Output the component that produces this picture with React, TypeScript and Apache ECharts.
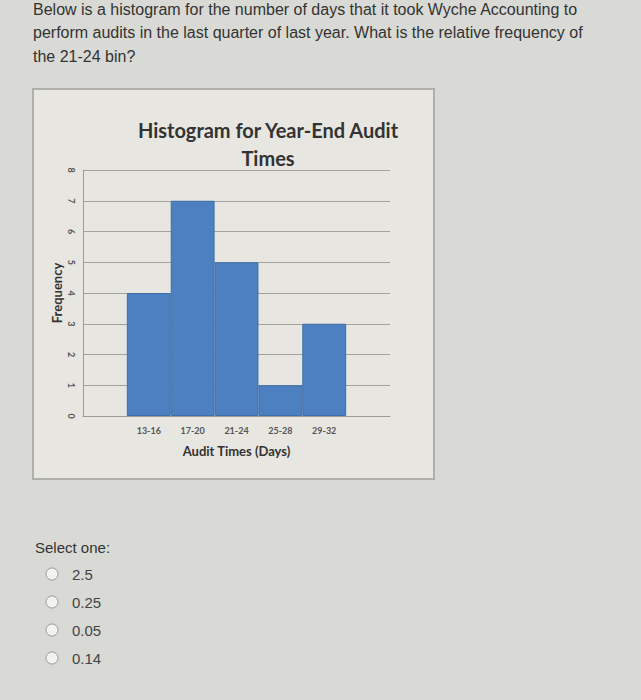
import React, { useEffect, useRef } from "react";
import * as echarts from "echarts";

const questionLines = [
  "Below is a histogram for the number of days that it took Wyche Accounting to",
  "perform audits in the last quarter of last year. What is the relative frequency of",
  "the 21-24 bin?",
];
const categories = ["", "13-16", "17-20", "21-24", "25-28", "29-32", ""];
const frequencies = [null, 4, 7, 5, 1, 3, null];
const options = ["2.5", "0.25", "0.05", "0.14"];
const chartTitle = "Histogram for Year-End Audit\nTimes";
const xName = "Audit Times (Days)";
const yName = "Frequency";

export default function App() {
  const ref = useRef<HTMLDivElement>(null);
  useEffect(() => {
    if (!ref.current) return;
    const chart = echarts.init(ref.current, null, { renderer: "svg" });
    const textFont = "Liberation Sans, Arial, sans-serif";
    const chartFont = "Lato, Open Sans, sans-serif";
    const graphics: any[] = [
      {
        type: "rect",
        z: -10,
        shape: { x: 33, y: 89, width: 401, height: 390 },
        style: { fill: "#e7e6e1", stroke: "#afafab", lineWidth: 2 },
      },
      {
        type: "text",
        x: 268,
        y: 116,
        style: {
          text: chartTitle,
          fontFamily: chartFont,
          fontWeight: "bold",
          fontSize: 20,
          lineHeight: 28,
          fill: "#333",
          textAlign: "center",
          textVerticalAlign: "top",
        },
      },
    ];
    questionLines.forEach((t, i) => {
      graphics.push({
        type: "text",
        x: 33,
        y: 9 + i * 23.5,
        style: {
          text: t,
          fontFamily: textFont,
          fontSize: 16,
          fill: "#333",
          textVerticalAlign: "middle",
        },
      });
    });
    graphics.push({
      type: "text",
      x: 35,
      y: 547,
      style: {
        text: "Select one:",
        fontFamily: textFont,
        fontSize: 15,
        fill: "#333",
        textVerticalAlign: "middle",
      },
    });
    options.forEach((t, i) => {
      const cy = 574 + i * 28;
      graphics.push({
        type: "circle",
        shape: { cx: 52, cy, r: 6 },
        style: { fill: "#f2f2f0", stroke: "#9a9a9a", lineWidth: 1 },
      });
      graphics.push({
        type: "text",
        x: 72,
        y: cy,
        style: {
          text: t,
          fontFamily: textFont,
          fontSize: 15,
          fill: "#444",
          textVerticalAlign: "middle",
        },
      });
    });

    chart.setOption({
      animation: false,
      backgroundColor: "#d9dad5",
      graphic: graphics,
      grid: { left: 83, right: 251, top: 170, bottom: 284 },
      xAxis: {
        type: "category",
        data: categories,
        name: xName,
        nameLocation: "middle",
        nameGap: 28,
        nameTextStyle: {
          fontFamily: chartFont,
          fontWeight: "bold",
          fontSize: 13,
          color: "#333",
        },
        axisTick: { show: false },
        axisLine: { show: true, lineStyle: { color: "#9c9c9c", width: 1 } },
        axisLabel: {
          interval: 0,
          margin: 10,
          fontFamily: chartFont,
          fontWeight: "bold",
          fontSize: 9,
          color: "#555",
        },
      },
      yAxis: {
        type: "value",
        min: 0,
        max: 8,
        interval: 1,
        name: yName,
        nameLocation: "middle",
        nameRotate: 90,
        nameGap: 20,
        nameTextStyle: {
          fontFamily: chartFont,
          fontWeight: "bold",
          fontSize: 13,
          color: "#333",
        },
        axisLine: { show: true, lineStyle: { color: "#9c9c9c", width: 1 } },
        axisTick: { show: false },
        axisLabel: {
          rotate: -90,
          margin: 7,
          fontFamily: chartFont,
          fontWeight: "bold",
          fontSize: 9,
          color: "#555",
        },
        splitLine: { show: true, lineStyle: { color: "#a3a3a0", width: 1 } },
      },
      series: [
        {
          type: "bar",
          data: frequencies,
          barCategoryGap: "0%",
          itemStyle: {
            color: "#4d80c1",
            borderColor: "#3e6ea8",
            borderWidth: 1,
          },
        },
      ],
    });
    return () => chart.dispose();
  }, []);
  return (
    <div
      ref={ref}
      style={{ position: "fixed", left: 0, top: 0, width: 641, height: 700 }}
    />
  );
}
